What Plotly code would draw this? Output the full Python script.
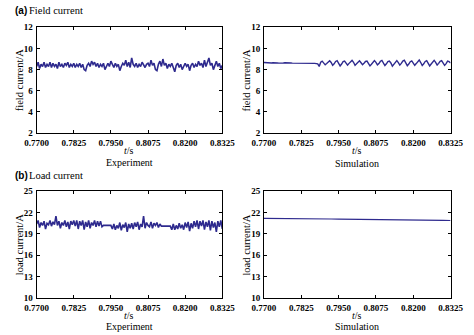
import numpy as np
import plotly.graph_objects as go

# sampling grid (s)
t_start, t_end = 0.7700, 0.8325
t_fine = np.linspace(t_start, t_end, 126)      # 0.5 ms step
t_coarse = np.linspace(t_start, t_end, 26)     # 2.5 ms step

x_ticks = [0.7700, 0.7825, 0.7950, 0.8075, 0.8200, 0.8325]
field_ticks = [2, 4, 6, 8, 10, 12]
load_ticks = [10, 13, 16, 19, 22, 25]

# (a) field current, A
field_exp = [
    8.3, 8.7, 8.1, 8.5, 8.3, 8.7, 8.2, 8.5, 8.3, 8.7, 8.2, 8.6, 8.3, 8.5, 8.1, 8.7, 8.3, 8.5, 8.2, 8.6, 8.4, 8.7, 8.2, 8.5, 8.3, 8.6,
    8.2, 8.5, 8.3, 8.6, 8.2, 8.5, 8.0, 7.9, 8.4, 8.6, 8.3, 8.8, 8.5, 8.7, 8.3, 8.6, 8.2, 8.5, 8.3, 8.6, 8.0, 8.4, 8.6, 8.3, 8.8,
    8.5, 8.2, 8.6, 8.3, 8.5, 7.9, 8.3, 8.6, 8.4, 8.9, 8.3, 8.7, 8.2, 9.1, 8.5, 8.3, 8.6, 8.2, 8.5, 8.3, 8.7, 8.4, 8.2, 8.5, 8.6,
    8.3, 8.9, 8.4, 8.6, 8.0, 7.9, 8.5, 8.8, 8.3, 9.0, 8.4, 8.6, 8.1, 8.5, 8.3, 8.6, 8.2, 7.8, 8.4, 8.6, 8.2, 8.5, 8.0, 8.3, 8.6,
    8.3, 8.5, 7.9, 8.4, 8.6, 8.2, 8.5, 8.3, 8.8, 8.4, 8.6, 8.2, 8.9, 8.3, 8.7, 9.1, 8.4, 8.6, 8.0, 8.5, 8.8, 8.3, 8.6, 8.1, 8.4,
]
field_sim = [
    8.67, 8.65, 8.63, 8.62, 8.61, 8.63, 8.65, 8.66, 8.65, 8.63, 8.61, 8.60, 8.61, 8.63, 8.65, 8.66, 8.65, 8.64, 8.62,
    8.61, 8.61, 8.62, 8.64, 8.65, 8.66, 8.65, 8.63, 8.61, 8.60, 8.59, 8.59, 8.60, 8.61, 8.60, 8.59, 8.57, 8.55, 8.30,
    8.70, 8.80, 8.65, 8.45, 8.57,
    8.75, 8.83, 8.67, 8.40, 8.55,
    8.77, 8.85, 8.65, 8.35, 8.53,
    8.75, 8.81, 8.63, 8.43, 8.59,
    8.79, 8.87, 8.69, 8.40, 8.55,
    8.75, 8.83, 8.65, 8.47, 8.61,
    8.77, 8.81, 8.61, 8.35, 8.51,
    8.73, 8.85, 8.69, 8.45, 8.57,
    8.79, 8.87, 8.65, 8.39, 8.55,
    8.75, 8.81, 8.63, 8.33, 8.53,
    8.77, 8.85, 8.67, 8.43, 8.59,
    8.81, 8.89, 8.69, 8.37, 8.53,
    8.75, 8.83, 8.65, 8.41, 8.57,
    8.79, 8.91, 8.67, 8.39, 8.55,
    8.77, 8.85, 8.63, 8.35, 8.53,
    8.75, 8.87, 8.69, 8.43, 8.59,
    8.79, 8.85, 8.65, 8.40, 8.57,
    8.81, 8.75, 8.63,
]

# (b) load current, A
load_exp = [
    20.4, 20.9, 19.9, 20.6, 20.2, 20.8, 19.7, 20.5, 20.3, 20.9, 20.1, 20.7, 20.3, 21.5, 20.2, 20.8, 19.8, 20.6, 20.2, 20.9, 20.0, 20.7, 19.7, 20.8, 20.3, 20.9,
    20.1, 20.9, 19.7, 20.8, 20.2, 20.9, 19.6, 20.7, 20.0, 20.9, 19.8, 20.6, 20.2, 20.9, 20.0, 20.8, 20.1, 20.8, 20.0,
    20.2, 20.2, 20.2, 20.2, 20.2, 20.2,
    19.7, 20.4, 19.6, 20.2, 19.8, 20.6, 19.5, 20.3, 19.9, 20.6, 19.3, 20.4, 19.8, 20.5, 19.7, 20.6, 20.0, 20.7, 19.6, 20.4, 20.0, 21.5, 19.8, 20.6, 20.2,
    20.0, 20.7, 19.8, 20.5, 20.2, 20.6, 19.9, 20.4, 20.1, 20.1, 20.1, 20.1, 20.1, 20.1, 20.1, 19.6, 20.4, 19.6, 20.2, 19.7, 20.5, 19.8, 20.3, 19.6, 20.6,
    19.9, 20.7, 19.4, 20.5, 19.8, 20.8, 20.0, 20.9, 19.7, 20.8, 20.1, 20.9, 19.6, 20.7, 20.0, 20.9, 19.5, 20.8, 19.9, 20.6, 19.3, 20.8, 20.0, 20.9, 19.7,
]
load_sim = [
    21.20, 21.20, 21.20, 21.20, 21.19, 21.18, 21.16, 21.14, 21.12, 21.10, 21.08, 21.06, 21.04,
    21.02, 21.00, 20.99, 20.98, 20.97, 20.96, 20.95, 20.94, 20.93, 20.92, 20.91, 20.90, 20.89,
]

LINE = "#2e2a8e"
SERIF = "Liberation Serif"
SANS = "Liberation Sans"

fig = go.Figure()
fig.add_trace(go.Scatter(x=t_fine, y=field_exp, mode="lines", line=dict(color=LINE, width=1.6),
                         xaxis="x", yaxis="y"))
fig.add_trace(go.Scatter(x=t_fine, y=field_sim, mode="lines", line=dict(color=LINE, width=1.4),
                         xaxis="x2", yaxis="y2"))
fig.add_trace(go.Scatter(x=t_fine, y=load_exp, mode="lines", line=dict(color=LINE, width=1.6),
                         xaxis="x3", yaxis="y3"))
fig.add_trace(go.Scatter(x=t_coarse, y=load_sim, mode="lines", line=dict(color=LINE, width=1.2),
                         xaxis="x4", yaxis="y4"))

W, H = 474, 335
left_dom = [26 / W, 222 / W]
right_dom = [266 / W, 463 / W]
top_dom = [1 - 132 / H, 1 - 23 / H]
bot_dom = [1 - 302 / H, 1 - 192 / H]

tick_font = dict(family=SERIF, size=9, color="black")


def xaxis(domain, anchor):
    return dict(domain=domain, anchor=anchor, range=[t_start, t_end], tickvals=x_ticks,
                ticktext=[f"<b>{v:.4f}</b>" for v in x_ticks], ticklabelstandoff=1,
                ticks="inside", ticklen=3, tickcolor="black",
                showline=True, linecolor="black", linewidth=1, mirror="ticks",
                showgrid=False, zeroline=False, tickfont=tick_font)


def yaxis(domain, anchor, ticks_list):
    return dict(domain=domain, anchor=anchor, range=[ticks_list[0], ticks_list[-1]], tickvals=ticks_list,
                ticktext=[f"<b>{v}</b>" for v in ticks_list], ticklabelstandoff=1,
                ticks="inside", ticklen=3, tickcolor="black",
                showline=True, linecolor="black", linewidth=1, mirror="ticks",
                showgrid=False, zeroline=False, tickfont=tick_font)


annotations = []


def txt(x, y, text, size=10.5, family=SERIF, angle=0, xanchor="center"):
    annotations.append(dict(x=x / W, y=1 - y / H, xref="paper", yref="paper", text=text,
                            showarrow=False, font=dict(family=family, size=size, color="black"),
                            textangle=angle, xanchor=xanchor, yanchor="middle"))


# panel headings
txt(1, 6, "<b>(a)</b>", size=10, family=SANS, xanchor="left")
txt(16, 6, "Field current", size=10.5, xanchor="left")
txt(1, 176, "<b>(b)</b>", size=10, family=SANS, xanchor="left")
txt(16, 176, "Load current", size=10.5, xanchor="left")

# axis titles and captions
for cx, cap, ty, cy in [
    (124, "Experiment", 150, 162),
    (364, "Simulation", 150, 163),
    (124, "Experiment", 320, 331),
    (364, "Simulation", 320, 331),
]:
    txt(cx, ty, "<i>t</i>/s", size=10)
    txt(cx, cy, cap, size=10)

txt(8, 77, "field current/A", angle=-90)
txt(248, 77, "field current/A", angle=-90)
txt(8, 247, "load current/A", angle=-90)
txt(248, 247, "load current/A", angle=-90)

fig.update_layout(
    width=W, height=H, autosize=False,
    margin=dict(l=0, r=0, t=0, b=0),
    paper_bgcolor="white", plot_bgcolor="white",
    showlegend=False,
    xaxis=xaxis(left_dom, "y"), yaxis=yaxis(top_dom, "x", field_ticks),
    xaxis2=xaxis(right_dom, "y2"), yaxis2=yaxis(top_dom, "x2", field_ticks),
    xaxis3=xaxis(left_dom, "y3"), yaxis3=yaxis(bot_dom, "x3", load_ticks),
    xaxis4=xaxis(right_dom, "y4"), yaxis4=yaxis(bot_dom, "x4", load_ticks),
    annotations=annotations,
)

fig.write_html("out.html")
